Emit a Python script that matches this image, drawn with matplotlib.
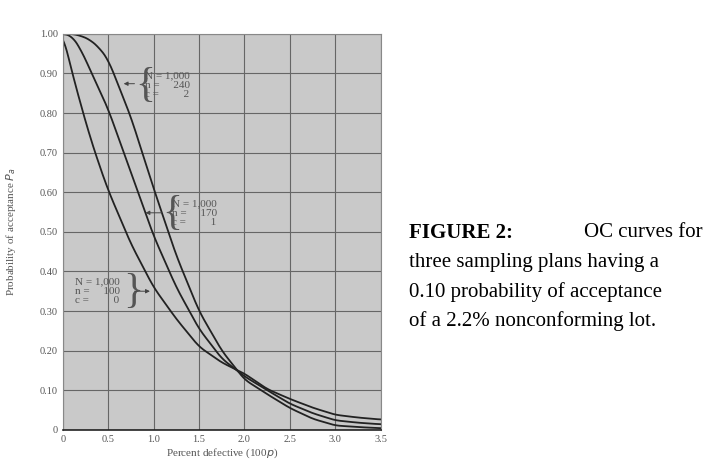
import numpy as np
import matplotlib
matplotlib.use("Agg")
import matplotlib.pyplot as plt

pct = [0, 0.1, 0.2, 0.3, 0.4, 0.5, 0.75, 1.0, 1.25, 1.5, 1.75, 2.0, 2.25, 2.5, 2.75, 3.0, 3.25, 3.5]
pa_c0 = [1.0, 0.905, 0.82, 0.74, 0.67, 0.605, 0.47, 0.36, 0.28, 0.21, 0.17, 0.142, 0.103, 0.078, 0.056, 0.038, 0.031, 0.026]
pa_c1 = [1.0, 0.995, 0.96, 0.91, 0.86, 0.81, 0.65, 0.49, 0.36, 0.255, 0.18, 0.135, 0.1, 0.066, 0.042, 0.024, 0.018, 0.014]
pa_c2 = [1.0, 1.0, 0.995, 0.985, 0.965, 0.935, 0.79, 0.61, 0.44, 0.30, 0.20, 0.127, 0.09, 0.055, 0.028, 0.011, 0.007, 0.004]
xticks = [0, 0.5, 1.0, 1.5, 2.0, 2.5, 3.0, 3.5]
xticklabels = ["0", "0.5", "1.0", "1.5", "2.0", "2.5", "3.0", "3.5"]
yticks = [0, 0.1, 0.2, 0.3, 0.4, 0.5, 0.6, 0.7, 0.8, 0.9, 1.0]
yticklabels = ["0", "0.10", "0.20", "0.30", "0.40", "0.50", "0.60", "0.70", "0.80", "0.90", "1.00"]

def smooth(x, y, k=25):
    x = np.asarray(x, float); y = np.asarray(y, float)
    xs = np.linspace(x[0], x[-1], 700)
    ys = np.interp(xs, x, y)
    w = np.ones(k) / k
    ys2 = np.convolve(np.pad(ys, k, mode='edge'), w, mode='same')[k:-k]
    return xs, np.minimum(ys2, 1.0)

fig = plt.figure(figsize=(7.13, 4.76), dpi=100)
ax = fig.add_axes([0.088, 0.097, 0.446, 0.832])
ax.set_facecolor("#c9c9c9")
for yv in [pa_c0, pa_c1, pa_c2]:
    xs, ys = smooth(pct, yv)
    ax.plot(xs, ys, color="#222222", lw=1.3)
ax.set_xlim(0, 3.5); ax.set_ylim(0, 1.0)
ax.set_xticks(xticks); ax.set_xticklabels(xticklabels)
ax.set_yticks(yticks); ax.set_yticklabels(yticklabels)
ax.grid(True, color="#666666", lw=0.8)
ax.tick_params(length=0, labelsize=7.5, colors="#555555")
for s in ax.spines.values():
    s.set_color("#888888")
ax.spines['bottom'].set_color("#222222"); ax.spines['bottom'].set_linewidth(1.2)
ax.set_xlabel("Percent defective (100$p$)", fontsize=8, color="#555555", family="Liberation Serif", labelpad=2)
ax.set_ylabel("Probability of acceptance $P_a$", fontsize=8, color="#555555", family="Liberation Serif", labelpad=16)
for lab in ax.get_xticklabels() + ax.get_yticklabels():
    lab.set_family("Liberation Serif")

kw = dict(fontsize=8, color="#555555", family="Liberation Serif", va="center", linespacing=1.05)
bk = dict(fontsize=30, color="#555555", va="center", family="Liberation Serif", fontweight="light")
ap = dict(arrowstyle="-|>", color="#444444", lw=0.7, mutation_scale=6)
ax.text(0.8, 0.868, "{", **bk)
ax.text(0.9, 0.87, "N = 1,000\nn =     240\nc =         2", **kw)
ax.annotate("", xy=(0.64, 0.874), xytext=(0.82, 0.874), arrowprops=ap)
ax.text(1.1, 0.545, "{", **bk)
ax.text(1.2, 0.547, "N = 1,000\nn =     170\nc =         1", **kw)
ax.annotate("", xy=(0.88, 0.548), xytext=(1.12, 0.548), arrowprops=ap)
ax.text(0.13, 0.35, "N = 1,000\nn =     100\nc =         0", **kw)
ax.text(0.66, 0.348, "}", **bk)
ax.annotate("", xy=(0.99, 0.35), xytext=(0.76, 0.35), arrowprops=ap)

fs = 15
fig.text(0.574, 0.511, "FIGURE 2:", fontsize=fs, fontweight="bold", family="Liberation Serif", va="center")
fig.text(0.985, 0.511, "OC curves for", fontsize=fs, family="Liberation Serif", va="center", ha="right")
for t, y in zip(["three sampling plans having a", "0.10 probability of acceptance", "of a 2.2% nonconforming lot."],
                [0.449, 0.387, 0.326]):
    fig.text(0.574, y, t, fontsize=fs, family="Liberation Serif", va="center")
fig.savefig("out.png", dpi=100)
